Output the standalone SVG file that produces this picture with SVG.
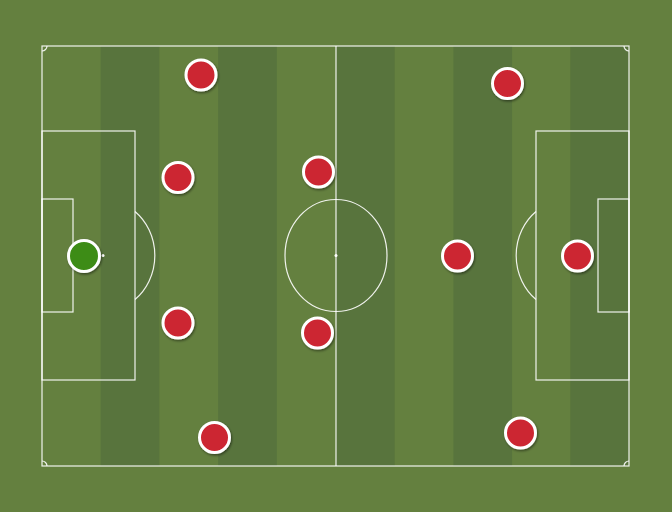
<svg xmlns="http://www.w3.org/2000/svg" width="672" height="512" viewBox="0 0 672 512">
<defs>
<style>
.ln{fill:none;stroke:#ffffff;stroke-width:1.2;stroke-opacity:0.9}
.dk{fill:#58743d}
.pl circle{stroke:#ffffff;stroke-width:3}
.red{fill:#cc2530}
.grn{fill:#3c8c14}
</style>
<filter id="sh" x="-50%" y="-50%" width="200%" height="200%">
<feDropShadow dx="1" dy="1.5" stdDeviation="1.2" flood-color="#000" flood-opacity="0.45"/>
</filter>
</defs>
<rect width="672" height="512" fill="#64803f"/>
<g id="stripes">
<rect class="dk" x="100.7" y="46" width="58.7" height="420"/>
<rect class="dk" x="218.1" y="46" width="58.7" height="420"/>
<rect class="dk" x="336" y="46" width="58.7" height="420"/>
<rect class="dk" x="453.4" y="46" width="58.7" height="420"/>
<rect class="dk" x="570.3" y="46" width="58.7" height="420"/>
</g>
<g id="pitch-lines">
<rect class="ln" x="42" y="46" width="587" height="420"/>
<line class="ln" x1="336" y1="46" x2="336" y2="466"/>
<ellipse class="ln" cx="336" cy="255.5" rx="51" ry="56"/>
<circle cx="336" cy="255.5" r="1.5" fill="#fff"/>
<rect class="ln" x="42" y="131" width="93" height="249"/>
<rect class="ln" x="42" y="199" width="31" height="113"/>
<circle cx="103" cy="255.5" r="1.5" fill="#fff"/>
<path class="ln" d="M135 211.5 A52 56 0 0 1 135 299.5"/>
<rect class="ln" x="536" y="131" width="93" height="249"/>
<rect class="ln" x="598" y="199" width="31" height="113"/>
<circle cx="569" cy="255.5" r="1.5" fill="#fff"/>
<path class="ln" d="M536 211.5 A52 56 0 0 0 536 299.5"/>
<path class="ln" d="M42 51 A5 5 0 0 0 47 46"/>
<path class="ln" d="M624 46 A5 5 0 0 0 629 51"/>
<path class="ln" d="M47 466 A5 5 0 0 0 42 461"/>
<path class="ln" d="M629 461 A5 5 0 0 0 624 466"/>
</g>
<g id="connectors"></g>
<g class="pl" filter="url(#sh)">
<g id="p-gk"><circle class="grn" cx="84" cy="256" r="15.5"/></g>
<g id="p1"><circle class="red" cx="201" cy="75" r="15"/></g>
<g id="p2"><circle class="red" cx="507.5" cy="83.5" r="15"/></g>
<g id="p3"><circle class="red" cx="178" cy="177.5" r="15"/></g>
<g id="p4"><circle class="red" cx="318.5" cy="172" r="15"/></g>
<g id="p5"><circle class="red" cx="457.5" cy="256" r="15"/></g>
<g id="p6"><circle class="red" cx="577.5" cy="256" r="15"/></g>
<g id="p7"><circle class="red" cx="178" cy="323" r="15"/></g>
<g id="p8"><circle class="red" cx="317.5" cy="333" r="15"/></g>
<g id="p9"><circle class="red" cx="214.5" cy="437.5" r="15"/></g>
<g id="p10"><circle class="red" cx="520.5" cy="433" r="15"/></g>
</g>
</svg>
